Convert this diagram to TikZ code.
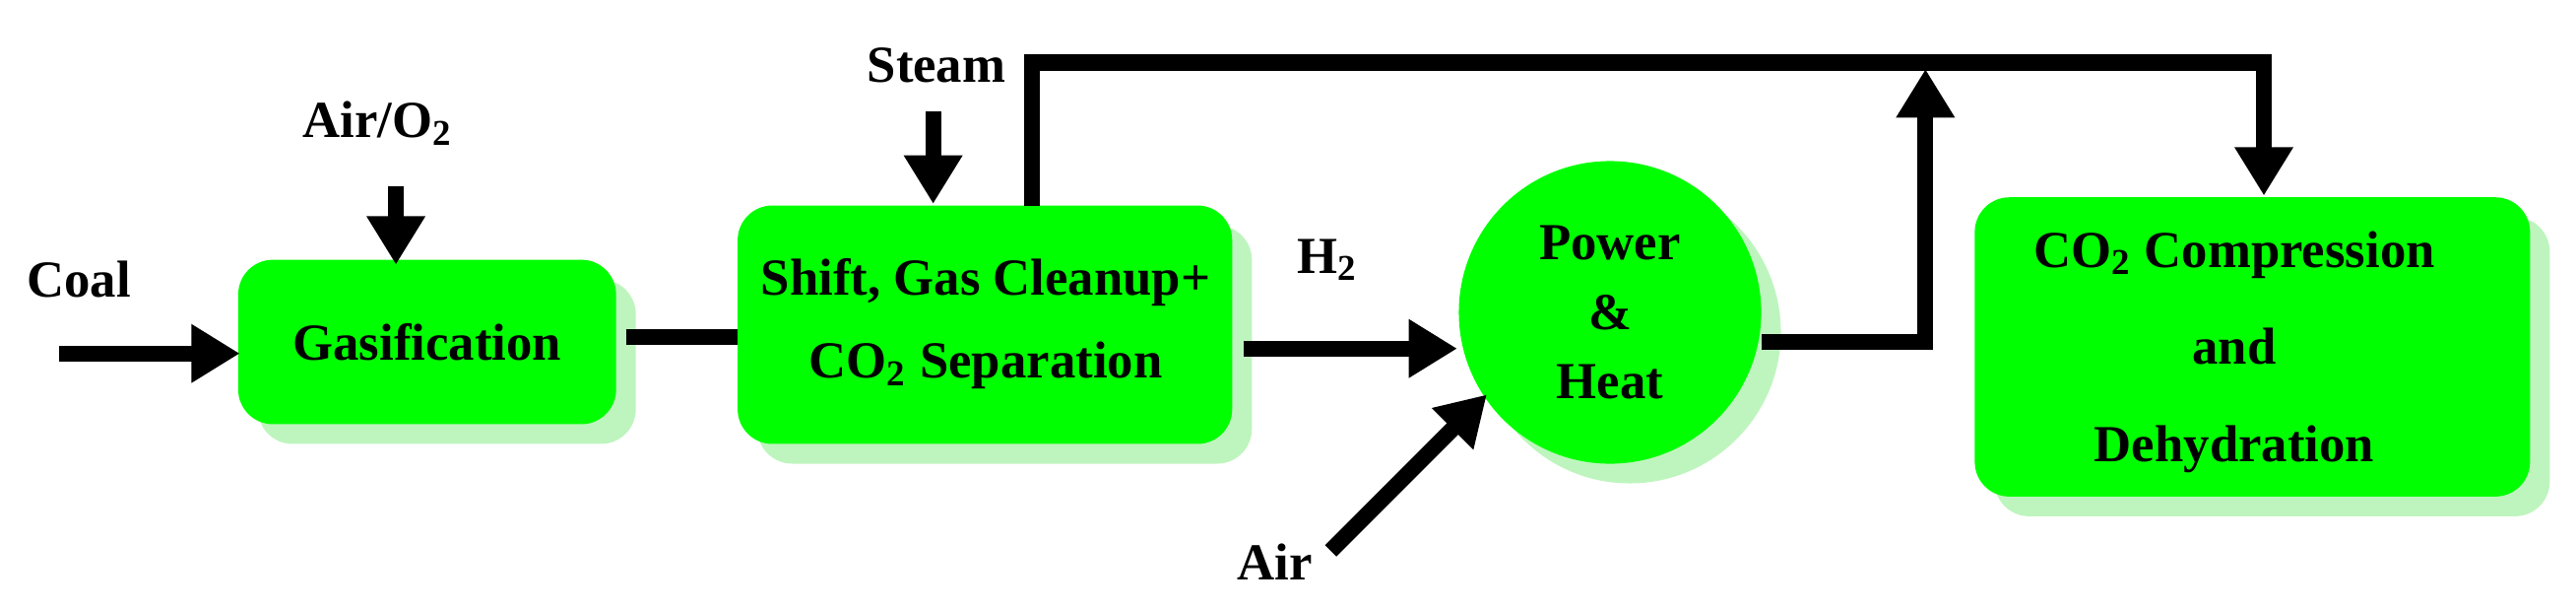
\documentclass[tikz,border=0pt]{standalone}
\usepackage{fontspec}
\setmainfont{Liberation Serif}
\usetikzlibrary{arrows.meta}
\definecolor{boxg}{RGB}{0,255,0}
\definecolor{shadg}{RGB}{190,245,190}
\begin{document}
\begin{tikzpicture}[x=0.01668cm,y=-0.01668cm,
  lbl/.style={font=\fontsize{15}{18}\selectfont\bfseries,align=center},
  box/.style={fill=boxg,rounded corners=10pt,draw=none},
  shad/.style={fill=shadg,rounded corners=10pt,draw=none},
  flow/.style={line width=4.6pt,-{Triangle[length=14pt,width=16pt]}},
  pipe/.style={line width=4.6pt}]
\useasboundingbox (0,0) rectangle (1568,370);
% shadows
\fill[shad] (157,170) rectangle (387,270);
\fill[shad] (461,137) rectangle (762,282);
\fill[shadg] (992,202) circle (92);
\fill[shad] (1214,132) rectangle (1552,314);
% boxes
\path[box] (145,158) rectangle (375,258);
\node[lbl] (gas) at (260,208) {Gasification};
\path[box] (449,125) rectangle (750,270);
\node[lbl] (shift) at (600,197) {Shift, Gas Cleanup+\\[6pt]CO\textsubscript{2} Separation};
\node[circle,fill=boxg,minimum size=184\pgflinewidth,inner sep=0pt,minimum size=3.07cm] (pow) at (980,190) {};
\node[lbl] at (980,190) {Power\\[2pt]\&\\[2pt]Heat};
\path[box] (1202,120) rectangle (1540,302);
\node[lbl] (co2) at (1360,214) {CO\textsubscript{2} Compression\\[10pt]and\\[10pt]Dehydration};
% labels
\node[lbl] (coal) at (48,170) {Coal};
\node[lbl] (airo) at (230,75) {Air/O\textsubscript{2}};
\node[lbl] (steam) at (570,40) {Steam};
\node[lbl] (h2) at (808,158) {H\textsubscript{2}};
\node[lbl] (air) at (776,342) {Air};
% coordinates
\coordinate (c1) at (36,215); \coordinate (c1e) at (146,215);
\coordinate (a1) at (241,113); \coordinate (a1e) at (241,161);
\coordinate (s1) at (568,68); \coordinate (s1e) at (568,124);
\coordinate (g1) at (381,205); \coordinate (g1e) at (449,205);
\coordinate (h1) at (757,212); \coordinate (h1e) at (887,212);
\coordinate (r1) at (810,335); \coordinate (r1e) at (905,240);
\coordinate (p1) at (1072,208); \coordinate (p2) at (1172,208); \coordinate (p3) at (1172,42);
\coordinate (t1) at (628,125); \coordinate (t2) at (628,38); \coordinate (t3) at (1378,38); \coordinate (t4) at (1378,119);
\draw[flow] (c1) -- (c1e);
\draw[flow] (a1) -- (a1e);
\draw[flow] (s1) -- (s1e);
\draw[pipe] (g1) -- (g1e);
\draw[flow] (h1) -- (h1e);
\draw[flow] (r1) -- (r1e);
\draw[flow] (p1) -- (p2) -- (p3);
\draw[flow] (t1) -- (t2) -- (t3) -- (t4);
\end{tikzpicture}
\end{document}
